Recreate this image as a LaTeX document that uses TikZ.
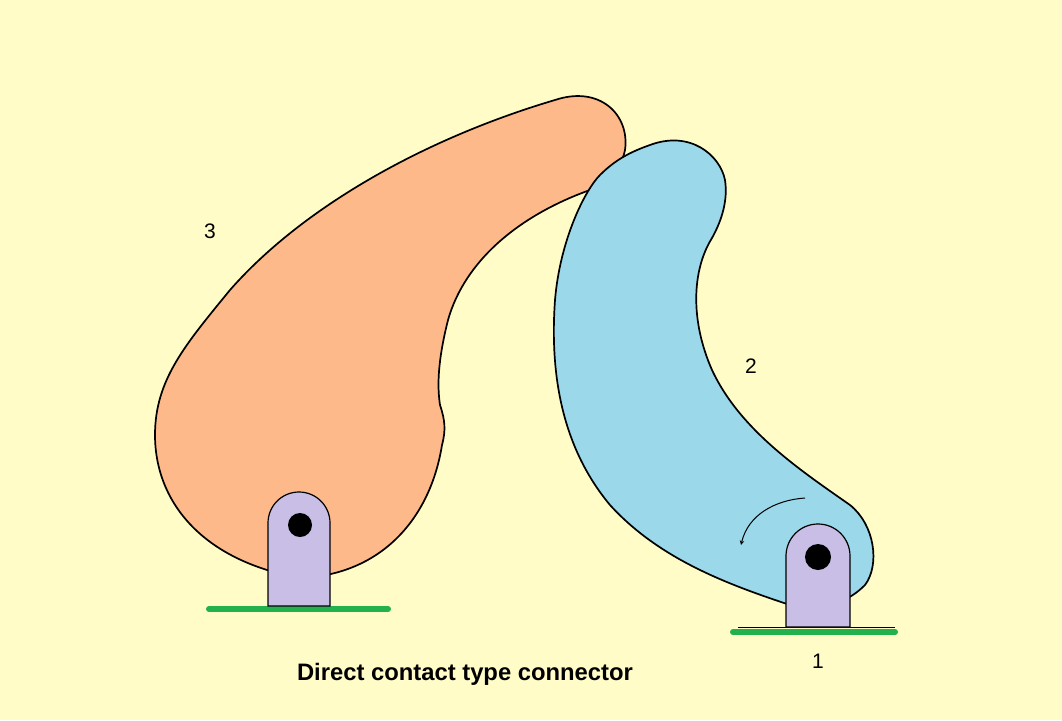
\documentclass[tikz,border=0pt]{standalone}
\usepackage{fontspec}
\setmainfont{Liberation Sans}
\begin{document}
\begin{tikzpicture}[x=1pt,y=-1pt,
  link/.style={draw=black,line width=1.7pt},
  bracket/.style={draw=black,fill=brk,line width=1.2pt},
  ground/.style={draw=grn,line width=6pt,line cap=round},
  lbl/.style={font=\fontsize{21}{24}\selectfont}]
\definecolor{bg}{HTML}{FFFCC8}
\definecolor{org}{HTML}{FDB98A}
\definecolor{blu}{HTML}{9AD8EA}
\definecolor{brk}{HTML}{C8BEE6}
\definecolor{grn}{HTML}{22B14C}
\fill[bg] (0,0) rectangle (1062,720);
\useasboundingbox (0,0) rectangle (1062,720);
% link 3
\path[link,fill=org] (300,578) .. controls (200,560) and (155,500) .. (155,435)
 .. controls (155,380) and (185,345) .. (230,290)
 .. controls (300,210) and (420,140) .. (555,100)
 .. controls (600,85) and (630,115) .. (625,150)
 .. controls (620,175) and (600,185) .. (590,190)
 .. controls (520,215) and (465,260) .. (448,320)
 .. controls (438,360) and (437,385) .. (440,405)
 .. controls (445,420) and (446,430) .. (442,445)
 .. controls (430,520) and (380,575) .. (300,578) -- cycle;
% link 2
\path[link,fill=blu] (650,145) .. controls (690,130) and (720,155) .. (725,180)
 .. controls (728,200) and (722,220) .. (712,238)
 .. controls (692,270) and (690,320) .. (712,370)
 .. controls (740,430) and (800,470) .. (850,505)
 .. controls (875,525) and (880,565) .. (865,585)
 .. controls (850,600) and (830,610) .. (790,605)
 .. controls (730,585) and (660,560) .. (610,505)
 .. controls (560,445) and (550,370) .. (555,300)
 .. controls (560,240) and (585,190) .. (600,175)
 .. controls (615,160) and (630,152) .. (650,145) -- cycle;
\node[lbl] (n3) at (210,231) {3};
\node[lbl] (n2) at (751,366) {2};
\node[lbl] (n1) at (818,661) {1};
\node[font=\bfseries\fontsize{23.8}{27}\selectfont] (title) at (465,674) {Direct contact type connector};
% left bracket
\draw[ground] (209,609) -- (388,609);
\draw[bracket] (268,606) -- (268,523) arc[start angle=180,end angle=360,radius=31] -- (330,606) -- cycle;
\fill (300,525) circle (12);
% right bracket
\draw[ground] (733,632) -- (895,632);
\draw[black,line width=1pt] (738,627) -- (895,627);
\draw[bracket] (786,627) -- (786,556) arc[start angle=180,end angle=360,radius=32] -- (850,627) -- cycle;
\fill (818,557) circle (13);
% rotation arrow
\coordinate (a0) at (805,498);
\coordinate (a1) at (741,545);
\draw[-stealth,line width=1pt] (a0) .. controls (775,500) and (748,515) .. (a1);
\end{tikzpicture}
\end{document}
